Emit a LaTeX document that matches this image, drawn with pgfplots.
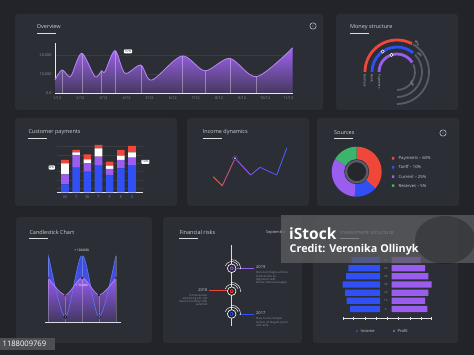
\documentclass[border=0pt]{standalone}
\usepackage{pgfplots}
\pgfplotsset{compat=1.18}
\usepackage{fontspec}
\setmainfont{Open Sans}
\definecolor{bg}{HTML}{222429}
\definecolor{panel}{HTML}{2C2E35}
\definecolor{txt}{HTML}{CDCFD6}
\definecolor{dim}{HTML}{8E9099}
\definecolor{mpurple}{HTML}{9B5CF0}
\definecolor{mblue}{HTML}{3050F5}
\definecolor{mred}{HTML}{F0473B}
\definecolor{mgreen}{HTML}{3CB46C}
\definecolor{mgray}{HTML}{595C66}
\definecolor{lpurple}{HTML}{B889F7}
\newcommand\ft[1]{\fontsize{#1}{#1}\selectfont}
\newcommand\panel[4]{\fill[panel,rounded corners=3pt] (#1,{355-#2}) rectangle (#3,{355-#4});}
\newcommand\ttl[3]{\node[anchor=west,inner sep=0,font=\ft{5.5},text=txt] at (#1,{355-#2}) {#3};
  \draw[txt!70,line width=0.6pt] (#1,{355-#2-6.3}) -- ++(19,0);}
\newcommand\info[2]{\draw[txt!80,line width=0.45pt] (#1,{355-#2}) circle (3.2);
  \node[font=\ft{3.8},text=txt,inner sep=0] at (#1,{355-#2}) {i};}
\newcommand\rings[1]{%
  \draw[white!80, line width=0.45pt] (axis cs:0,#1) ++(160:6.8pt) arc[start angle=160, end angle=20, radius=6.8pt];
  \draw[white!80, line width=0.45pt] (axis cs:0,#1) ++(95:8.8pt) arc[start angle=95, end angle=-5, radius=8.8pt];}
\pgfplotsset{dstyle/.style={scale only axis, anchor=south west, clip=false,
  tick style={draw=none}, tick label style={font=\ft{3.8}, text=dim},
  /pgf/number format/assume math mode=true}}
\begin{document}
\begin{tikzpicture}[x=1pt,y=1pt]
\useasboundingbox (0,0) rectangle (474,355);
\fill[bg] (0,0) rectangle (474,355);
% panels
\panel{15}{14}{323}{110}
\panel{336}{14}{458}{110}
\panel{15}{118}{177}{206}
\panel{187}{118}{309}{206}
\panel{317}{118}{459}{206}
\panel{16}{217}{152}{343}
\panel{163}{217}{302}{343}
\panel{313}{217}{458}{343}
% titles
\ttl{36.7}{26.7}{Overview}
\ttl{350}{27.3}{Money structure}
\ttl{28.3}{131.7}{Customer payments}
\ttl{202.7}{131.7}{Income dynamics}
\ttl{334}{132.3}{Sources}
\ttl{29.3}{232.3}{Candlestick Chart}
\ttl{179.3}{232.3}{Financial risks}
\ttl{340}{232.3}{Investment structure}
\node[anchor=west,inner sep=0,font=\ft{3.8},text=txt] at (266,{355-232.3}) {September};
\info{313}{26}
\info{443}{133}

% ---------- Overview ----------
\begin{axis}[dstyle, at={(55pt,262pt)}, width=237.9pt, height=50pt,
  xmin=0.9, xmax=11.2, ymin=0, ymax=26316,
  axis x line*=bottom, axis y line*=left, axis line style={draw=txt!45,line width=0.5pt,-},
  xtick={1,...,11}, xticklabels={1/12,2/12,3/12,4/12,5/12,6/12,7/12,8/12,9/12,10/12,11/12},
  ytick={0,10000,20000}, yticklabels={0.0,{10,000},{20,000}}, scaled y ticks=false,
  ymajorgrids, grid style={draw=white,opacity=0.07}]
\addplot[smooth, draw=none, top color=mpurple!95, bottom color=mpurple!22!panel] coordinates {
 (0.9,6842) (1.19,12100) (1.48,8950) (1.62,9474) (2.06,20900) (2.63,8600) (2.92,11700) (3.06,11200)
 (3.5,22300) (3.93,10400) (4.61,14700) (5.09,6800) (6.39,19500) (7.39,11700) (8.47,18200) (9.63,8600) (11.19,23800)} \closedcycle;
\addplot[ycomb, draw=white, opacity=0.35, line width=0.35pt, mark=none] coordinates {
 (1.19,12100) (2.06,20900) (2.92,11700) (3.5,22300) (4.61,14700) (6.39,19500) (7.39,11700) (8.47,18200) (9.63,8600)};
\addplot[smooth, draw=lpurple, line width=0.8pt] coordinates {
 (0.9,6842) (1.19,12100) (1.48,8950) (1.62,9474) (2.06,20900) (2.63,8600) (2.92,11700) (3.06,11200)
 (3.5,22300) (3.93,10400) (4.61,14700) (5.09,6800) (6.39,19500) (7.39,11700) (8.47,18200) (9.63,8600) (11.19,23800)};
\end{axis}
\node[fill=white, rounded corners=0.8pt, inner sep=0.8pt, font=\ft{3.3}, text=panel] at (128,{355-51.3}) {10\%};

% ---------- Money structure ----------
\begin{scope}[shift={(397,283)}]
\draw[mgray, line width=1.8pt] (60:32) arc[start angle=60, end angle=-90, radius=32];
\draw[mgray, line width=1.8pt] (44:25) arc[start angle=44, end angle=-90, radius=25];
\draw[mgray, line width=1.8pt] (25:18) arc[start angle=25, end angle=-90, radius=18];
\draw[mred, line width=2.8pt] (180:32) arc[start angle=180, end angle=62, radius=32];
\draw[mblue, line width=2.8pt] (180:25) arc[start angle=180, end angle=50, radius=25];
\draw[mpurple, line width=2.8pt] (180:18) arc[start angle=180, end angle=32, radius=18];
\fill[panel] (125:25) circle (1.6); \draw[white!85, line width=0.5pt] (125:25) circle (1.6);
\fill[panel] (108:18) circle (1.6); \draw[white!85, line width=0.5pt] (108:18) circle (1.6);
\node[font=\ft{3},text=txt,rotate=-58] at (55:35) {40\%};
\node[font=\ft{3},text=txt,rotate=-45] at (38:28.5) {30\%};
\node[font=\ft{3},text=txt,rotate=-60] at (-38:19) {15\%};
\node[font=\ft{3},text=txt,rotate=-90,anchor=west,inner sep=0.5] at (-32,-2) {Business};
\node[font=\ft{3},text=txt,rotate=-90,anchor=west,inner sep=0.5] at (-25,-2) {Bank};
\node[font=\ft{3},text=txt,rotate=-90,anchor=west,inner sep=0.5] at (-18,-2) {Payments};
\end{scope}

% ---------- Customer payments ----------
\begin{axis}[dstyle, at={(56.6pt,162.7pt)}, width=86pt, height=48.33pt,
  xmin=-0.75, xmax=6.95, ymin=0, ymax=145, ybar stacked, bar width=7.6pt,
  axis x line*=bottom, axis y line*=left, x axis line style={draw=txt!55,line width=0.6pt,-}, y axis line style={draw=none},
  xtick={0,...,6}, xticklabels={M,T,W,T,F,S,S}, ytick={12,37,62,87,112,137}, yticklabels={},
  ymajorgrids, grid style={draw=white,opacity=0.07}]
\addplot[fill=mblue, draw=none] coordinates {(0,24)(1,74)(2,62)(3,80)(4,52)(5,72)(6,80)};
\addplot[fill=mpurple, draw=none] coordinates {(0,30)(1,38)(2,25)(3,27)(4,18)(5,25)(6,24)};
\addplot[fill=white, draw=none] coordinates {(0,33)(1,8)(2,12)(3,25)(4,10)(5,13)(6,16)};
\addplot[fill=mred, draw=none] coordinates {(0,10)(1,7)(2,15)(3,10)(4,12)(5,17)(6,19)};
\end{axis}
\node[fill=white, rounded corners=0.8pt, inner sep=0.8pt, font=\ft{3.3}, text=panel] at (51.7,{355-167.5}) {8\%};
\node[fill=white, rounded corners=0.8pt, inner sep=0.8pt, font=\ft{3.3}, text=panel] at (145.3,{355-161.8}) {10\%};

% ---------- Income dynamics ----------
\begin{axis}[dstyle, at={(211.7pt,161.7pt)}, width=75pt, height=45pt,
  xmin=0, xmax=75, ymin=0, ymax=5, axis lines=none,
  ytick={0,...,5}, yticklabels={M,T,W,T,F,S}, xtick=\empty,
  yticklabel style={xshift=-3pt},
  ymajorgrids, grid style={draw=white,opacity=0.08}]
\addplot[draw=mred!50!orange, line width=0.9pt] coordinates {(1.6,1.84)(10.6,0.84)};
\addplot[draw=mred!60!mpurple, line width=0.9pt] coordinates {(10.6,0.84)(23.3,3.89)};
\addplot[draw=mpurple, line width=0.9pt] coordinates {(23.3,3.89)(39,2.03)};
\addplot[draw=mpurple!55!mblue, line width=0.9pt] coordinates {(39,2.03)(48.3,2.89)};
\addplot[draw=mpurple!35!mblue, line width=0.9pt] coordinates {(48.3,2.89)(65,2.03)};
\addplot[draw=mblue!90!white, line width=0.9pt] coordinates {(65,2.03)(75,5)};
\addplot[only marks, mark=*, mark size=3.2pt, mark options={fill=mpurple, draw=none, opacity=0.35}] coordinates {(23.3,3.89)};
\addplot[only marks, mark=*, mark size=1.6pt, mark options={fill=lpurple!60!white, draw=none}] coordinates {(23.3,3.89)};
\end{axis}

% ---------- Sources ----------
\begin{scope}[shift={(356.7,183.3)}]
\fill[mred] (0,0) -- (90:25) arc[start angle=90, end angle=-42, radius=25] -- cycle;
\fill[mblue] (0,0) -- (-42:25) arc[start angle=-42, end angle=-95, radius=25] -- cycle;
\fill[mpurple] (0,0) -- (-95:25) arc[start angle=-95, end angle=-210, radius=25] -- cycle;
\fill[mgreen] (0,0) -- (150:25) arc[start angle=150, end angle=90, radius=25] -- cycle;
\fill[panel] (0,0) circle (12.5);
\draw[mgray, line width=2.4pt] (0,0) circle (10.6);
\fill[panel!85!black] (0,0) circle (9.3);
\end{scope}
\foreach \c/\t/\y in {mred/Payments -- 60\%/158.3, mblue/Tariff -- 10\%/167.3, mpurple/Current -- 25\%/176.7, mgreen/Reserves -- 5\%/185.7}{
  \fill[\c, rounded corners=0.5pt] (391.8,{355-\y-1.3}) rectangle ++(2.6,2.6);
  \node[anchor=west, inner sep=0, font=\ft{4.2}, text=txt] at (398.5,{355-\y}) {\t};
}

% ---------- Candlestick ----------
\begin{axis}[dstyle, at={(45pt,32.3pt)}, width=75.7pt, height=75pt,
  xmin=-0.195, xmax=4.276, ymin=0, ymax=75, axis lines=none, xtick=\empty, ytick=\empty]
\addplot[smooth, draw=none, top color=mblue, bottom color=mpurple!70!mblue, fill opacity=0.9] coordinates {(0,67.7)(1,5.7)(2,67.7)(3,5.7)(4,67.7)} \closedcycle;
\addplot[smooth, draw=none, top color=mpurple, bottom color=mpurple!15!panel, fill opacity=0.92] coordinates {(0,44.7)(1,27.7)(2,44.7)(3,27.7)(4,44.7)} \closedcycle;
\addplot[ycomb, draw=white, opacity=0.25, line width=0.35pt, mark=none] coordinates {(0,67.7)(1,27.7)(2,67.7)(3,27.7)(4,67.7)};
\addplot[smooth, draw=mblue!80!white, line width=0.7pt] coordinates {(0,67.7)(1,5.7)(2,67.7)(3,5.7)(4,67.7)};
\addplot[smooth, draw=lpurple, line width=0.6pt] coordinates {(0,44.7)(1,27.7)(2,44.7)(3,27.7)(4,44.7)};
\addplot[only marks, mark=*, mark size=1.1pt, mark options={fill=white!70!mpurple, draw=none}] coordinates {(0,44.7)(1,27.7)(2,44.7)(3,27.7)(4,44.7)};
\addplot[only marks, mark=*, mark size=1.1pt, mark options={fill=white!60!mblue, draw=none}] coordinates {(0,67.7)(2,67.7)(4,67.7)};
\addplot[only marks, mark=*, mark size=1.5pt, mark options={fill=mblue!70!white, draw=none}] coordinates {(1,5.7)(3,5.7)};
\end{axis}
\draw[txt!70, line width=1.3pt] (45,{355-322.7}) -- (120.7,{355-322.7});
\node[font=\ft{3.2}, text=white, inner sep=0] at (81.7,{355-250.5}) {+ 100,000};
\node[font=\ft{3}, text=white!70, inner sep=0] at (82,{355-285.5}) {+ 50,000};

% ---------- Financial risks ----------
\draw[mpurple, line width=0.6pt] (237.3,{355-268.3}) -- (254,{355-268.3});
\draw[mred, line width=0.6pt] (209.3,{355-290.7}) -- (226.5,{355-290.7});
\draw[mblue, line width=0.6pt] (239,{355-314}) -- (254,{355-314});
\begin{axis}[dstyle, at={(201.7pt,27.3pt)}, width=60pt, height=84.5pt,
  xmin=-1, xmax=1, ymin=2016.4, ymax=2020.1, axis lines=none, xtick=\empty, ytick=\empty]
\addplot[draw=txt!75, line width=0.6pt] coordinates {(0,2016.48) (0,2020.02)};
\addplot[only marks, mark=*, mark size=4.3pt, mark options={fill=panel, draw=white!85, line width=0.6pt}] coordinates {(0,2017)(0,2018)(0,2019)};
\addplot[only marks, mark=*, mark size=2.4pt, mark options={fill=mblue, draw=none}] coordinates {(0,2017)};
\addplot[only marks, mark=*, mark size=2.4pt, mark options={fill=mred, draw=none}] coordinates {(0,2018)};
\addplot[only marks, mark=*, mark size=2.4pt, mark options={fill=mpurple, draw=none}] coordinates {(0,2019)};
\addplot[only marks, mark=*, mark size=0.7pt, mark options={fill=white, draw=none}] coordinates {(0,2017)(0,2018)(0,2019)};
\rings{2017}
\rings{2018}
\rings{2019}
\end{axis}
\node[anchor=west, inner sep=0, font=\ft{4}, text=txt] at (256,{355-267.3}) {2019};
\node[anchor=north west, inner sep=0, font=\ft{2.9}, text=dim, align=left] at (256,{355-271.2}) {Duis sed magna ultrices\\facilisis felis eu\\dignissim velit.\\Donec vehicula magna};
\node[anchor=east, inner sep=0, font=\ft{4}, text=txt] at (207.7,{355-290}) {2018};
\node[anchor=north east, inner sep=0, font=\ft{2.9}, text=dim, align=right] at (207.7,{355-294.5}) {Consectetuer\\adipiscing elit, sed\\diam nonummy nibh\\euismod};
\node[anchor=west, inner sep=0, font=\ft{4}, text=txt] at (256,{355-313.3}) {2017};
\node[anchor=north west, inner sep=0, font=\ft{2.9}, text=dim, align=left] at (256,{355-317}) {Duis cursus tempor\\lacinia, ut feugiat, proin\\velit ante.};

% ---------- Pyramid ----------
\begin{axis}[dstyle, at={(335pt,41.1pt)}, width=45pt, height=58.8pt,
  xmin=0, xmax=45, x dir=reverse, ymin=-6, ymax=66, axis lines=none, xtick=\empty, ytick=\empty]
\addplot[xbar, bar width=6.3pt, fill=mblue, draw=none] coordinates {(30,0)(33.3,10)(35,20)(37.3,30)(34,40)(31.7,50)(28.3,60)};
\end{axis}
\begin{axis}[dstyle, at={(391.7pt,41.1pt)}, width=50pt, height=58.8pt,
  xmin=0, xmax=50, ymin=-6, ymax=66, axis lines=none, xtick=\empty, ytick=\empty]
\addplot[xbar, bar width=6.3pt, fill=mpurple, draw=none] coordinates {(35.6,0)(33.3,10)(36.6,20)(40,30)(36.6,40)(33.3,50)(29,60)};
\end{axis}
\foreach \v/\y in {60/260,50/268.2,40/276.3,30/284.5,20/292.7,10/300.8,0/309}{
  \node[font=\ft{2.9}, text=dim, inner sep=0] at (385.8,{355-\y}) {\v};
}
\draw[txt!60, line width=0.5pt] (343,{355-318.3}) -- (431,{355-318.3});
\foreach \x in {343,353.3,365,376,387.3,398.3,410,421.7,431}{
  \draw[txt!60, line width=0.5pt] (\x,{355-317.3}) -- (\x,{355-319.8});
}
\fill[mblue] (357,{355-331}) circle (1.2);
\node[anchor=west, inner sep=0, font=\ft{4}, text=txt] at (360.5,{355-331}) {Income};
\fill[mpurple] (394,{355-331}) circle (1.2);
\node[anchor=west, inner sep=0, font=\ft{4}, text=txt] at (397.5,{355-331}) {Profit};

% ---------- watermark ----------
\fill[gray!60!panel, opacity=0.75] (281,{355-263}) rectangle (474,{355-215});
\fill[black, opacity=0.25] (445,{355-240}) ellipse (30 and 24);
\node[anchor=base west, inner sep=0, font=\bfseries\ft{15.5}, text=white] at (289,{355-240}) {iStock};
\node[anchor=base west, inner sep=0, font=\bfseries\ft{10.8}, text=white] at (289.5,{355-252.5}) {Credit: Veronika Ollinyk};
\fill[gray!40!panel] (0,{355-350}) rectangle (55,{355-338.3});
\node[anchor=west, inner sep=0, font=\ft{7.6}, text=white] at (2.5,{355-344.2}) {1188009769};
\end{tikzpicture}
\end{document}
